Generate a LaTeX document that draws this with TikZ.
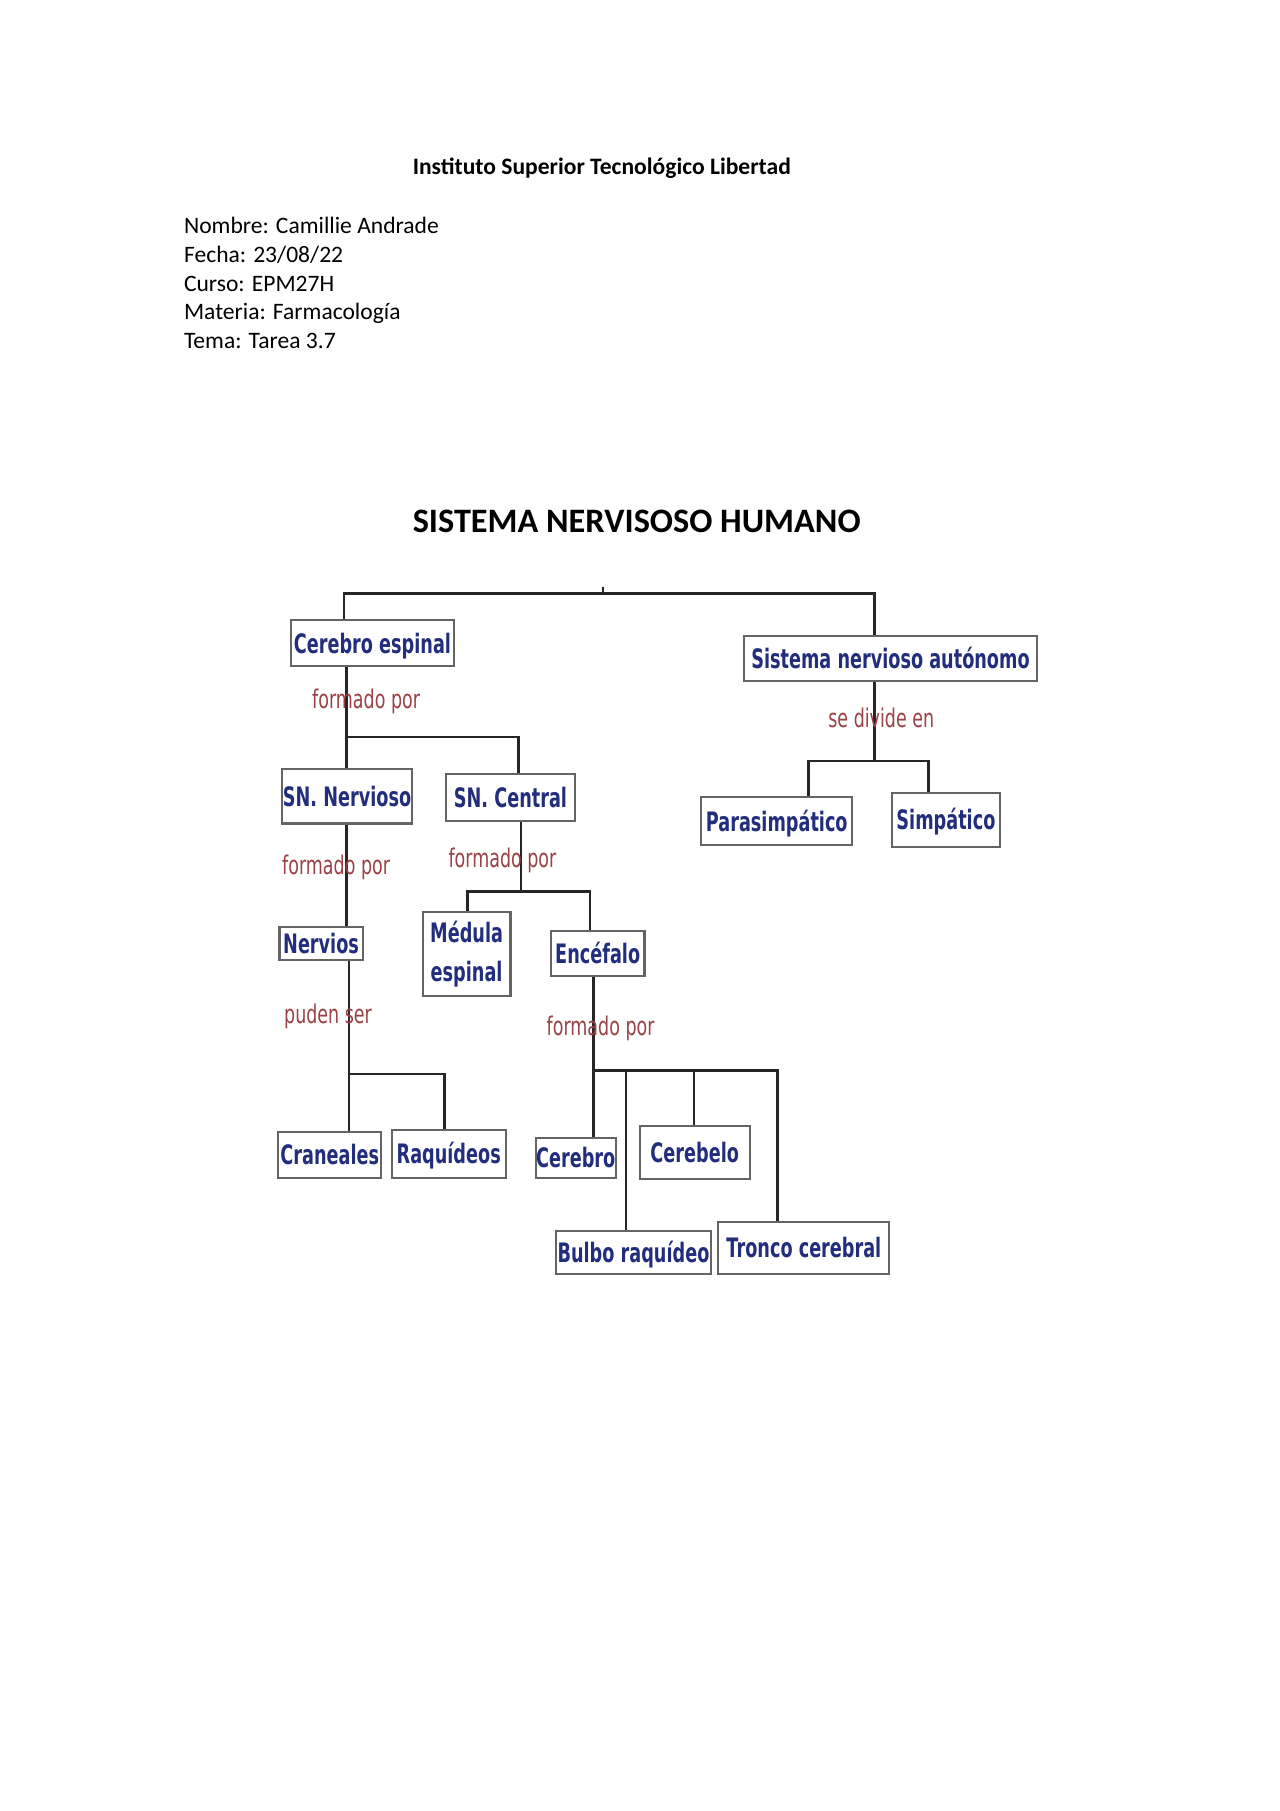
\documentclass[tikz,border=0pt]{standalone}
\usepackage{fontspec}
\setmainfont{Carlito}
\newfontfamily\boxfont[FakeStretch=0.66]{DejaVu Sans Bold}
\newfontfamily\lblfont[FakeStretch=0.68]{DejaVu Sans}
\definecolor{boxblue}{RGB}{35,45,125}
\definecolor{lblred}{RGB}{155,65,70}
\definecolor{boxline}{RGB}{100,100,100}
\def\pxu{0.018953cm}
\newcommand\bx[7][bx]{\node[#1, minimum width={(#5-#3)*\pxu}, minimum height={(#6-#4)*\pxu}] (#2) at ({(#3+#5)/2},{(#4+#6)/2}) {#7};}
\tikzset{
  bxbase/.style={draw=boxline, line width=0.95pt, fill=white, inner sep=0pt, text=boxblue, align=center,
    font=\boxfont\fontsize{12.5}{18}\selectfont},
  bx/.style={bxbase, text height=9.2pt, text depth=0pt},
  lbl/.style={font=\lblfont\fontsize{12}{14}\selectfont, text=lblred, inner sep=0pt},
  conn/.style={line width=1.2pt, black!85},
  hdr/.style={anchor=base west, inner sep=0pt, font=\fontsize{11}{13}\selectfont}
}
\begin{document}
\begin{tikzpicture}[x=\pxu, y=-\pxu]
\useasboundingbox (0,0) rectangle (1108,1568);
\fill[white] (0,0) rectangle (1108,1568);

% header
\node[hdr, font=\bfseries\fontsize{11}{13}\selectfont] (inst) at (357,151.5) {Instituto Superior Tecnológico Libertad};
\node[hdr] (nom) at (159,202) {Nombre: Camillie Andrade};
\node[hdr] (fec) at (159,227) {Fecha: 23/08/22};
\node[hdr] (cur) at (159,252) {Curso: EPM27H};
\node[hdr] (mat) at (159,277) {Materia: Farmacología};
\node[hdr] (tem) at (159,302) {Tema: Tarea 3.7};
\node[anchor=west, inner sep=0pt, font=\bfseries\fontsize{16}{19}\selectfont] (title) at (357,451) {SISTEMA NERVISOSO HUMANO};

% junction coordinates
\coordinate (t0) at (298,514);
\coordinate (t1) at (757,514);
\coordinate (tm) at (522,514);
\coordinate (tt) at (522,508);
\coordinate (a0) at (300,638);
\coordinate (a1) at (449,638);
\coordinate (b0) at (300,760);
\coordinate (c0) at (451,772);
\coordinate (c1) at (405,772);
\coordinate (c2) at (511,772);
\coordinate (d0) at (302,930);
\coordinate (d1) at (385,930);
\coordinate (e0) at (514,927);
\coordinate (e1) at (542,927);
\coordinate (e2) at (601,927);
\coordinate (e3) at (673,927);
\coordinate (f0) at (757,659);
\coordinate (f1) at (700,659);
\coordinate (f2) at (804,659);

% boxes
\bx{ce}{252}{537}{393}{577}{Cerebro espinal}
\bx{sna}{644}{551}{898}{590}{Sistema nervioso autónomo}
\bx{snn}{244}{666}{357}{713}{SN. Nervioso}
\bx{snc}{386}{670}{498}{711}{SN. Central}
\bx{ner}{242}{803}{314}{831}{Nervios}
\bx[bxbase]{med}{366}{790}{442}{862}{Médula\\espinal}
\bx{enc}{477}{806}{558}{845}{Encéfalo}
\bx{cra}{241}{980}{330}{1020}{Craneales}
\bx{raq}{339}{978}{438}{1020}{Raquídeos}
\bx{cer}{464}{985}{533}{1020}{Cerebro}
\bx{cbl}{554}{975}{649}{1021}{Cerebelo}
\bx{bul}{481}{1066}{616}{1103}{Bulbo raquídeo}
\bx{tro}{622}{1058}{770}{1103}{Tronco cerebral}
\bx{par}{607}{690}{738}{732}{Parasimpático}
\bx{sim}{772}{687}{866}{733}{Simpático}

% connectors
\draw[conn] (ce.north -| t0) -- (t0) -- (t1) -- (sna.north -| t1);
\draw[conn] (tt) -- (tm);
\draw[conn] (ce.south -| a0) -- (a0) -- (a1) -- (snc.north -| a1);
\draw[conn] (a0) -- (snn.north -| a0);
\draw[conn] (snn.south -| b0) -- (ner.north -| b0);
\draw[conn] (snc.south -| c0) -- (c0);
\draw[conn] (med.north -| c1) -- (c1) -- (c2) -- (enc.north -| c2);
\draw[conn] (ner.south -| d0) -- (cra.north -| d0);
\draw[conn] (d0) -- (d1) -- (raq.north -| d1);
\draw[conn] (enc.south -| e0) -- (cer.north -| e0);
\draw[conn] (e0) -- (e3) -- (tro.north -| e3);
\draw[conn] (e1) -- (bul.north -| e1);
\draw[conn] (e2) -- (cbl.north -| e2);
\draw[conn] (sna.south -| f0) -- (f0);
\draw[conn] (par.north -| f1) -- (f1) -- (f2) -- (sim.north -| f2);

% labels
\node[lbl] (l1) at (317,607) {formado por};
\node[lbl] (l2) at (291,751) {formado por};
\node[lbl] (l3) at (435,745) {formado por};
\node[lbl] (l4) at (284,880) {puden ser};
\node[lbl] (l5) at (520,890) {formado por};
\node[lbl] (l6) at (763,622) {se divide en};
\end{tikzpicture}
\end{document}
